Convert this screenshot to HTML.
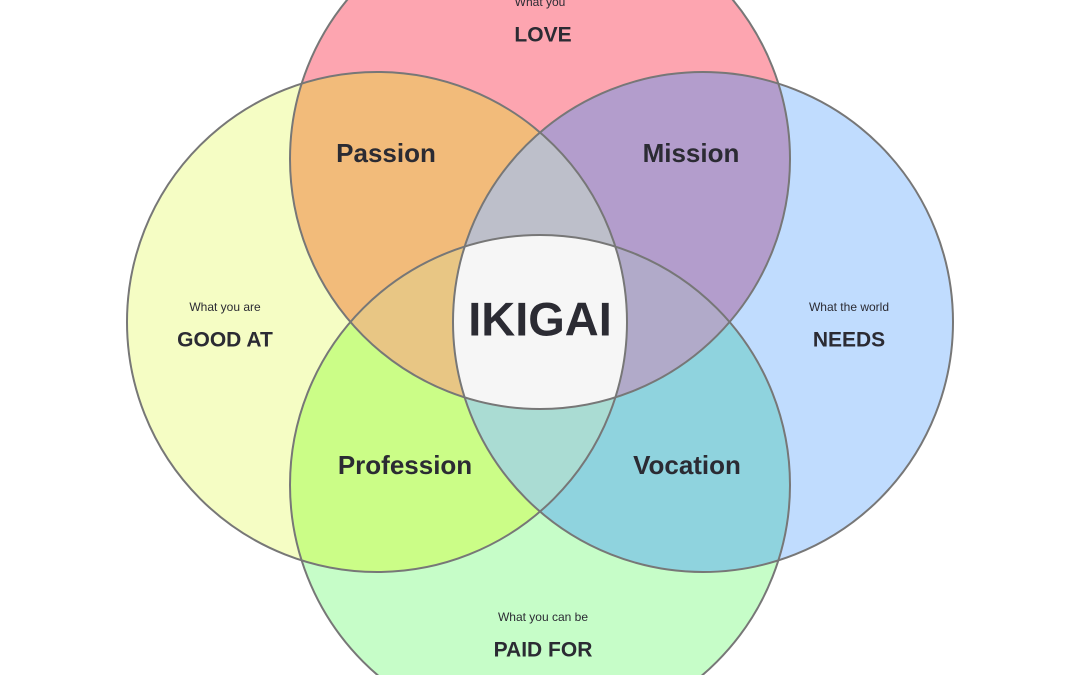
<!DOCTYPE html>
<html><head><meta charset="utf-8"><style>
html,body{margin:0;padding:0;background:#fff;width:1080px;height:675px;overflow:hidden;}
svg{display:block;}
text{font-family:"Liberation Sans",sans-serif;fill:#2b2b33;text-anchor:middle;dominant-baseline:middle;}
</style></head><body>
<svg width="1080" height="675" viewBox="0 0 1080 675">
<defs>
<clipPath id="T"><circle cx="540" cy="159" r="250"/></clipPath>
<clipPath id="B"><circle cx="540" cy="485" r="250"/></clipPath>
<clipPath id="L"><circle cx="377" cy="322" r="250"/></clipPath>
<clipPath id="R"><circle cx="703" cy="322" r="250"/></clipPath>
</defs>
<circle cx="540" cy="159" r="250" fill="#fda5b0"/>
<circle cx="540" cy="485" r="250" fill="#c6fdc8"/>
<circle cx="377" cy="322" r="250" fill="#f5fdc4"/>
<circle cx="703" cy="322" r="250" fill="#c0dcfe"/>
<g clip-path="url(#T)"><circle cx="377" cy="322" r="250" fill="#f2bb7a"/><circle cx="703" cy="322" r="250" fill="#b39dcc"/></g>
<g clip-path="url(#B)"><circle cx="377" cy="322" r="250" fill="#cbfd87"/><circle cx="703" cy="322" r="250" fill="#8fd3de"/></g>
<g clip-path="url(#T)"><g clip-path="url(#L)"><circle cx="703" cy="322" r="250" fill="#bdbfca"/><circle cx="540" cy="485" r="250" fill="#e8c684"/></g></g>
<g clip-path="url(#T)"><g clip-path="url(#R)"><circle cx="540" cy="485" r="250" fill="#b1aac9"/></g></g>
<g clip-path="url(#B)"><g clip-path="url(#L)"><circle cx="703" cy="322" r="250" fill="#aadcd3"/></g></g>
<g clip-path="url(#T)"><g clip-path="url(#B)"><g clip-path="url(#L)"><circle cx="703" cy="322" r="250" fill="#f6f6f6"/></g></g></g>
<g fill="none" stroke="#777" stroke-width="2">
<circle cx="540" cy="159" r="250"/><circle cx="540" cy="485" r="250"/>
<circle cx="377" cy="322" r="250"/><circle cx="703" cy="322" r="250"/>
</g>
<text x="540" y="3" font-size="12">What you</text>
<text x="543" y="36" font-size="21" font-weight="bold">LOVE</text>
<text x="225" y="308" font-size="12">What you are</text>
<text x="225" y="341" font-size="21" font-weight="bold">GOOD AT</text>
<text x="849" y="308" font-size="12">What the world</text>
<text x="849" y="341" font-size="21" font-weight="bold">NEEDS</text>
<text x="543" y="618" font-size="12">What you can be</text>
<text x="543" y="651" font-size="21" font-weight="bold">PAID FOR</text>
<text x="386" y="155" font-size="26" font-weight="bold">Passion</text>
<text x="691" y="155" font-size="26" font-weight="bold">Mission</text>
<text x="405" y="467" font-size="26" font-weight="bold">Profession</text>
<text x="687" y="467" font-size="26" font-weight="bold">Vocation</text>
<text x="540" y="323" font-size="47" font-weight="bold">IKIGAI</text>
</svg>
</body></html>
